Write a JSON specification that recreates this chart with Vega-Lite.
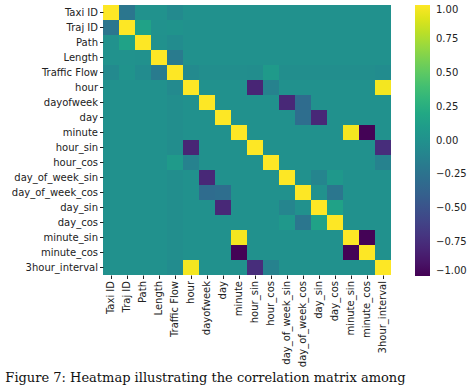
{
  "$schema": "https://vega.github.io/schema/vega-lite/v6.json",
  "autosize": "none",
  "width": 288,
  "height": 270,
  "padding": {"left": 103, "top": 5, "right": 83, "bottom": 114},
  "background": "white",
  "config": {"view": {"stroke": null}, "font": "DejaVu Sans"},
  "title": {"text": "Figure 7: Heatmap illustrating the correlation matrix among", "orient": "bottom", "anchor": "start", "frame": "bounds", "font": "DejaVu Serif", "fontWeight": "normal", "fontSize": 13, "color": "#111", "baseline": "top", "offset": 5, "dx": -6},
  "data": {"values": [
{"r":"Taxi ID","c":"Taxi ID","v":1},{"r":"Taxi ID","c":"Traj ID","v":-0.22},{"r":"Taxi ID","c":"Path","v":0.01},{"r":"Taxi ID","c":"Length","v":0.01},{"r":"Taxi ID","c":"Traffic Flow","v":-0.05},{"r":"Taxi ID","c":"hour","v":0},{"r":"Taxi ID","c":"dayofweek","v":0},{"r":"Taxi ID","c":"day","v":0},{"r":"Taxi ID","c":"minute","v":0},{"r":"Taxi ID","c":"hour_sin","v":0},{"r":"Taxi ID","c":"hour_cos","v":0},{"r":"Taxi ID","c":"day_of_week_sin","v":0},{"r":"Taxi ID","c":"day_of_week_cos","v":0},{"r":"Taxi ID","c":"day_sin","v":0},{"r":"Taxi ID","c":"day_cos","v":0},{"r":"Taxi ID","c":"minute_sin","v":0},{"r":"Taxi ID","c":"minute_cos","v":0},{"r":"Taxi ID","c":"3hour_interval","v":0},
{"r":"Traj ID","c":"Taxi ID","v":-0.22},{"r":"Traj ID","c":"Traj ID","v":1},{"r":"Traj ID","c":"Path","v":0.15},{"r":"Traj ID","c":"Length","v":0.01},{"r":"Traj ID","c":"Traffic Flow","v":0.02},{"r":"Traj ID","c":"hour","v":0},{"r":"Traj ID","c":"dayofweek","v":0},{"r":"Traj ID","c":"day","v":0},{"r":"Traj ID","c":"minute","v":0},{"r":"Traj ID","c":"hour_sin","v":0},{"r":"Traj ID","c":"hour_cos","v":0},{"r":"Traj ID","c":"day_of_week_sin","v":0},{"r":"Traj ID","c":"day_of_week_cos","v":0},{"r":"Traj ID","c":"day_sin","v":0},{"r":"Traj ID","c":"day_cos","v":0},{"r":"Traj ID","c":"minute_sin","v":0},{"r":"Traj ID","c":"minute_cos","v":0},{"r":"Traj ID","c":"3hour_interval","v":0},
{"r":"Path","c":"Taxi ID","v":0.01},{"r":"Path","c":"Traj ID","v":0.15},{"r":"Path","c":"Path","v":1},{"r":"Path","c":"Length","v":0},{"r":"Path","c":"Traffic Flow","v":-0.04},{"r":"Path","c":"hour","v":0},{"r":"Path","c":"dayofweek","v":0},{"r":"Path","c":"day","v":0},{"r":"Path","c":"minute","v":0},{"r":"Path","c":"hour_sin","v":0},{"r":"Path","c":"hour_cos","v":0},{"r":"Path","c":"day_of_week_sin","v":0},{"r":"Path","c":"day_of_week_cos","v":0},{"r":"Path","c":"day_sin","v":0},{"r":"Path","c":"day_cos","v":0},{"r":"Path","c":"minute_sin","v":0},{"r":"Path","c":"minute_cos","v":0},{"r":"Path","c":"3hour_interval","v":0},
{"r":"Length","c":"Taxi ID","v":0.01},{"r":"Length","c":"Traj ID","v":0.01},{"r":"Length","c":"Path","v":0},{"r":"Length","c":"Length","v":1},{"r":"Length","c":"Traffic Flow","v":-0.18},{"r":"Length","c":"hour","v":0},{"r":"Length","c":"dayofweek","v":0},{"r":"Length","c":"day","v":0},{"r":"Length","c":"minute","v":0},{"r":"Length","c":"hour_sin","v":0},{"r":"Length","c":"hour_cos","v":0},{"r":"Length","c":"day_of_week_sin","v":0},{"r":"Length","c":"day_of_week_cos","v":0},{"r":"Length","c":"day_sin","v":0},{"r":"Length","c":"day_cos","v":0},{"r":"Length","c":"minute_sin","v":0},{"r":"Length","c":"minute_cos","v":0},{"r":"Length","c":"3hour_interval","v":0},
{"r":"Traffic Flow","c":"Taxi ID","v":-0.05},{"r":"Traffic Flow","c":"Traj ID","v":0.02},{"r":"Traffic Flow","c":"Path","v":-0.04},{"r":"Traffic Flow","c":"Length","v":-0.18},{"r":"Traffic Flow","c":"Traffic Flow","v":1},{"r":"Traffic Flow","c":"hour","v":-0.05},{"r":"Traffic Flow","c":"dayofweek","v":-0.02},{"r":"Traffic Flow","c":"day","v":-0.02},{"r":"Traffic Flow","c":"minute","v":-0.02},{"r":"Traffic Flow","c":"hour_sin","v":-0.03},{"r":"Traffic Flow","c":"hour_cos","v":0.08},{"r":"Traffic Flow","c":"day_of_week_sin","v":-0.02},{"r":"Traffic Flow","c":"day_of_week_cos","v":-0.02},{"r":"Traffic Flow","c":"day_sin","v":-0.02},{"r":"Traffic Flow","c":"day_cos","v":-0.02},{"r":"Traffic Flow","c":"minute_sin","v":-0.02},{"r":"Traffic Flow","c":"minute_cos","v":-0.02},{"r":"Traffic Flow","c":"3hour_interval","v":-0.04},
{"r":"hour","c":"Taxi ID","v":0},{"r":"hour","c":"Traj ID","v":0},{"r":"hour","c":"Path","v":0},{"r":"hour","c":"Length","v":0},{"r":"hour","c":"Traffic Flow","v":-0.05},{"r":"hour","c":"hour","v":1},{"r":"hour","c":"dayofweek","v":0},{"r":"hour","c":"day","v":0},{"r":"hour","c":"minute","v":0},{"r":"hour","c":"hour_sin","v":-0.8},{"r":"hour","c":"hour_cos","v":-0.12},{"r":"hour","c":"day_of_week_sin","v":0},{"r":"hour","c":"day_of_week_cos","v":0},{"r":"hour","c":"day_sin","v":0},{"r":"hour","c":"day_cos","v":0},{"r":"hour","c":"minute_sin","v":0},{"r":"hour","c":"minute_cos","v":0},{"r":"hour","c":"3hour_interval","v":0.97},
{"r":"dayofweek","c":"Taxi ID","v":0},{"r":"dayofweek","c":"Traj ID","v":0},{"r":"dayofweek","c":"Path","v":0},{"r":"dayofweek","c":"Length","v":0},{"r":"dayofweek","c":"Traffic Flow","v":-0.02},{"r":"dayofweek","c":"hour","v":0},{"r":"dayofweek","c":"dayofweek","v":1},{"r":"dayofweek","c":"day","v":0},{"r":"dayofweek","c":"minute","v":0},{"r":"dayofweek","c":"hour_sin","v":0},{"r":"dayofweek","c":"hour_cos","v":0},{"r":"dayofweek","c":"day_of_week_sin","v":-0.78},{"r":"dayofweek","c":"day_of_week_cos","v":-0.3},{"r":"dayofweek","c":"day_sin","v":0},{"r":"dayofweek","c":"day_cos","v":0},{"r":"dayofweek","c":"minute_sin","v":0},{"r":"dayofweek","c":"minute_cos","v":0},{"r":"dayofweek","c":"3hour_interval","v":0},
{"r":"day","c":"Taxi ID","v":0},{"r":"day","c":"Traj ID","v":0},{"r":"day","c":"Path","v":0},{"r":"day","c":"Length","v":0},{"r":"day","c":"Traffic Flow","v":-0.02},{"r":"day","c":"hour","v":0},{"r":"day","c":"dayofweek","v":0},{"r":"day","c":"day","v":1},{"r":"day","c":"minute","v":0},{"r":"day","c":"hour_sin","v":0},{"r":"day","c":"hour_cos","v":0},{"r":"day","c":"day_of_week_sin","v":0},{"r":"day","c":"day_of_week_cos","v":-0.28},{"r":"day","c":"day_sin","v":-0.78},{"r":"day","c":"day_cos","v":0},{"r":"day","c":"minute_sin","v":0},{"r":"day","c":"minute_cos","v":0},{"r":"day","c":"3hour_interval","v":0},
{"r":"minute","c":"Taxi ID","v":0},{"r":"minute","c":"Traj ID","v":0},{"r":"minute","c":"Path","v":0},{"r":"minute","c":"Length","v":0},{"r":"minute","c":"Traffic Flow","v":-0.02},{"r":"minute","c":"hour","v":0},{"r":"minute","c":"dayofweek","v":0},{"r":"minute","c":"day","v":0},{"r":"minute","c":"minute","v":1},{"r":"minute","c":"hour_sin","v":0},{"r":"minute","c":"hour_cos","v":0},{"r":"minute","c":"day_of_week_sin","v":0},{"r":"minute","c":"day_of_week_cos","v":0},{"r":"minute","c":"day_sin","v":0},{"r":"minute","c":"day_cos","v":0},{"r":"minute","c":"minute_sin","v":0.97},{"r":"minute","c":"minute_cos","v":-0.99},{"r":"minute","c":"3hour_interval","v":0},
{"r":"hour_sin","c":"Taxi ID","v":0},{"r":"hour_sin","c":"Traj ID","v":0},{"r":"hour_sin","c":"Path","v":0},{"r":"hour_sin","c":"Length","v":0},{"r":"hour_sin","c":"Traffic Flow","v":-0.03},{"r":"hour_sin","c":"hour","v":-0.8},{"r":"hour_sin","c":"dayofweek","v":0},{"r":"hour_sin","c":"day","v":0},{"r":"hour_sin","c":"minute","v":0},{"r":"hour_sin","c":"hour_sin","v":1},{"r":"hour_sin","c":"hour_cos","v":0},{"r":"hour_sin","c":"day_of_week_sin","v":0},{"r":"hour_sin","c":"day_of_week_cos","v":0},{"r":"hour_sin","c":"day_sin","v":0},{"r":"hour_sin","c":"day_cos","v":0},{"r":"hour_sin","c":"minute_sin","v":0},{"r":"hour_sin","c":"minute_cos","v":0},{"r":"hour_sin","c":"3hour_interval","v":-0.75},
{"r":"hour_cos","c":"Taxi ID","v":0},{"r":"hour_cos","c":"Traj ID","v":0},{"r":"hour_cos","c":"Path","v":0},{"r":"hour_cos","c":"Length","v":0},{"r":"hour_cos","c":"Traffic Flow","v":0.08},{"r":"hour_cos","c":"hour","v":-0.12},{"r":"hour_cos","c":"dayofweek","v":0},{"r":"hour_cos","c":"day","v":0},{"r":"hour_cos","c":"minute","v":0},{"r":"hour_cos","c":"hour_sin","v":0},{"r":"hour_cos","c":"hour_cos","v":1},{"r":"hour_cos","c":"day_of_week_sin","v":0},{"r":"hour_cos","c":"day_of_week_cos","v":0},{"r":"hour_cos","c":"day_sin","v":0},{"r":"hour_cos","c":"day_cos","v":0},{"r":"hour_cos","c":"minute_sin","v":0},{"r":"hour_cos","c":"minute_cos","v":0},{"r":"hour_cos","c":"3hour_interval","v":-0.12},
{"r":"day_of_week_sin","c":"Taxi ID","v":0},{"r":"day_of_week_sin","c":"Traj ID","v":0},{"r":"day_of_week_sin","c":"Path","v":0},{"r":"day_of_week_sin","c":"Length","v":0},{"r":"day_of_week_sin","c":"Traffic Flow","v":-0.02},{"r":"day_of_week_sin","c":"hour","v":0},{"r":"day_of_week_sin","c":"dayofweek","v":-0.78},{"r":"day_of_week_sin","c":"day","v":0},{"r":"day_of_week_sin","c":"minute","v":0},{"r":"day_of_week_sin","c":"hour_sin","v":0},{"r":"day_of_week_sin","c":"hour_cos","v":0},{"r":"day_of_week_sin","c":"day_of_week_sin","v":1},{"r":"day_of_week_sin","c":"day_of_week_cos","v":0},{"r":"day_of_week_sin","c":"day_sin","v":-0.1},{"r":"day_of_week_sin","c":"day_cos","v":0.07},{"r":"day_of_week_sin","c":"minute_sin","v":0},{"r":"day_of_week_sin","c":"minute_cos","v":0},{"r":"day_of_week_sin","c":"3hour_interval","v":0},
{"r":"day_of_week_cos","c":"Taxi ID","v":0},{"r":"day_of_week_cos","c":"Traj ID","v":0},{"r":"day_of_week_cos","c":"Path","v":0},{"r":"day_of_week_cos","c":"Length","v":0},{"r":"day_of_week_cos","c":"Traffic Flow","v":-0.02},{"r":"day_of_week_cos","c":"hour","v":0},{"r":"day_of_week_cos","c":"dayofweek","v":-0.3},{"r":"day_of_week_cos","c":"day","v":-0.28},{"r":"day_of_week_cos","c":"minute","v":0},{"r":"day_of_week_cos","c":"hour_sin","v":0},{"r":"day_of_week_cos","c":"hour_cos","v":0},{"r":"day_of_week_cos","c":"day_of_week_sin","v":0},{"r":"day_of_week_cos","c":"day_of_week_cos","v":1},{"r":"day_of_week_cos","c":"day_sin","v":0},{"r":"day_of_week_cos","c":"day_cos","v":-0.22},{"r":"day_of_week_cos","c":"minute_sin","v":0},{"r":"day_of_week_cos","c":"minute_cos","v":0},{"r":"day_of_week_cos","c":"3hour_interval","v":0},
{"r":"day_sin","c":"Taxi ID","v":0},{"r":"day_sin","c":"Traj ID","v":0},{"r":"day_sin","c":"Path","v":0},{"r":"day_sin","c":"Length","v":0},{"r":"day_sin","c":"Traffic Flow","v":-0.02},{"r":"day_sin","c":"hour","v":0},{"r":"day_sin","c":"dayofweek","v":0},{"r":"day_sin","c":"day","v":-0.78},{"r":"day_sin","c":"minute","v":0},{"r":"day_sin","c":"hour_sin","v":0},{"r":"day_sin","c":"hour_cos","v":0},{"r":"day_sin","c":"day_of_week_sin","v":-0.1},{"r":"day_sin","c":"day_of_week_cos","v":0},{"r":"day_sin","c":"day_sin","v":1},{"r":"day_sin","c":"day_cos","v":0.15},{"r":"day_sin","c":"minute_sin","v":0},{"r":"day_sin","c":"minute_cos","v":0},{"r":"day_sin","c":"3hour_interval","v":0},
{"r":"day_cos","c":"Taxi ID","v":0},{"r":"day_cos","c":"Traj ID","v":0},{"r":"day_cos","c":"Path","v":0},{"r":"day_cos","c":"Length","v":0},{"r":"day_cos","c":"Traffic Flow","v":-0.02},{"r":"day_cos","c":"hour","v":0},{"r":"day_cos","c":"dayofweek","v":0},{"r":"day_cos","c":"day","v":0},{"r":"day_cos","c":"minute","v":0},{"r":"day_cos","c":"hour_sin","v":0},{"r":"day_cos","c":"hour_cos","v":0},{"r":"day_cos","c":"day_of_week_sin","v":0.07},{"r":"day_cos","c":"day_of_week_cos","v":-0.22},{"r":"day_cos","c":"day_sin","v":0.15},{"r":"day_cos","c":"day_cos","v":1},{"r":"day_cos","c":"minute_sin","v":0},{"r":"day_cos","c":"minute_cos","v":0},{"r":"day_cos","c":"3hour_interval","v":0},
{"r":"minute_sin","c":"Taxi ID","v":0},{"r":"minute_sin","c":"Traj ID","v":0},{"r":"minute_sin","c":"Path","v":0},{"r":"minute_sin","c":"Length","v":0},{"r":"minute_sin","c":"Traffic Flow","v":-0.02},{"r":"minute_sin","c":"hour","v":0},{"r":"minute_sin","c":"dayofweek","v":0},{"r":"minute_sin","c":"day","v":0},{"r":"minute_sin","c":"minute","v":0.97},{"r":"minute_sin","c":"hour_sin","v":0},{"r":"minute_sin","c":"hour_cos","v":0},{"r":"minute_sin","c":"day_of_week_sin","v":0},{"r":"minute_sin","c":"day_of_week_cos","v":0},{"r":"minute_sin","c":"day_sin","v":0},{"r":"minute_sin","c":"day_cos","v":0},{"r":"minute_sin","c":"minute_sin","v":1},{"r":"minute_sin","c":"minute_cos","v":-0.99},{"r":"minute_sin","c":"3hour_interval","v":0},
{"r":"minute_cos","c":"Taxi ID","v":0},{"r":"minute_cos","c":"Traj ID","v":0},{"r":"minute_cos","c":"Path","v":0},{"r":"minute_cos","c":"Length","v":0},{"r":"minute_cos","c":"Traffic Flow","v":-0.02},{"r":"minute_cos","c":"hour","v":0},{"r":"minute_cos","c":"dayofweek","v":0},{"r":"minute_cos","c":"day","v":0},{"r":"minute_cos","c":"minute","v":-0.99},{"r":"minute_cos","c":"hour_sin","v":0},{"r":"minute_cos","c":"hour_cos","v":0},{"r":"minute_cos","c":"day_of_week_sin","v":0},{"r":"minute_cos","c":"day_of_week_cos","v":0},{"r":"minute_cos","c":"day_sin","v":0},{"r":"minute_cos","c":"day_cos","v":0},{"r":"minute_cos","c":"minute_sin","v":-0.99},{"r":"minute_cos","c":"minute_cos","v":1},{"r":"minute_cos","c":"3hour_interval","v":0},
{"r":"3hour_interval","c":"Taxi ID","v":0},{"r":"3hour_interval","c":"Traj ID","v":0},{"r":"3hour_interval","c":"Path","v":0},{"r":"3hour_interval","c":"Length","v":0},{"r":"3hour_interval","c":"Traffic Flow","v":-0.04},{"r":"3hour_interval","c":"hour","v":0.97},{"r":"3hour_interval","c":"dayofweek","v":0},{"r":"3hour_interval","c":"day","v":0},{"r":"3hour_interval","c":"minute","v":0},{"r":"3hour_interval","c":"hour_sin","v":-0.75},{"r":"3hour_interval","c":"hour_cos","v":-0.12},{"r":"3hour_interval","c":"day_of_week_sin","v":0},{"r":"3hour_interval","c":"day_of_week_cos","v":0},{"r":"3hour_interval","c":"day_sin","v":0},{"r":"3hour_interval","c":"day_cos","v":0},{"r":"3hour_interval","c":"minute_sin","v":0},{"r":"3hour_interval","c":"minute_cos","v":0},{"r":"3hour_interval","c":"3hour_interval","v":1}
  ]},
  "mark": {"type": "rect"},
  "encoding": {
    "x": {"field": "c", "type": "nominal", "title": null,
      "sort": ["Taxi ID","Traj ID","Path","Length","Traffic Flow","hour","dayofweek","day","minute","hour_sin","hour_cos","day_of_week_sin","day_of_week_cos","day_sin","day_cos","minute_sin","minute_cos","3hour_interval"],
      "scale": {"paddingInner": 0, "paddingOuter": 0},
      "axis": {"domain": false, "labelAngle": 270, "labelAlign": "right", "labelBaseline": "middle", "labelFont": "DejaVu Sans", "labelFontSize": 10, "labelColor": "#222", "tickColor": "#222", "tickSize": 3.5, "labelPadding": 2, "labelOverlap": false}},
    "y": {"field": "r", "type": "nominal", "title": null,
      "sort": ["Taxi ID","Traj ID","Path","Length","Traffic Flow","hour","dayofweek","day","minute","hour_sin","hour_cos","day_of_week_sin","day_of_week_cos","day_sin","day_cos","minute_sin","minute_cos","3hour_interval"],
      "scale": {"paddingInner": 0, "paddingOuter": 0},
      "axis": {"domain": false, "labelFont": "DejaVu Sans", "labelFontSize": 10, "labelColor": "#222", "tickColor": "#222", "tickSize": 3.5, "labelPadding": 2, "labelOverlap": false}},
    "color": {"field": "v", "type": "quantitative", "title": null,
      "scale": {"scheme": "viridis", "domain": [-1, 1]},
      "legend": {"orient": "right", "offset": 24, "gradientLength": 271, "gradientThickness": 15, "values": [-1, -0.75, -0.5, -0.25, 0, 0.25, 0.5, 0.75, 1], "format": ".2f", "labelFont": "DejaVu Sans", "labelFontSize": 10, "labelColor": "#222", "labelOverlap": false, "labelOffset": 6, "labelBaseline": "middle"}}
  }
}
